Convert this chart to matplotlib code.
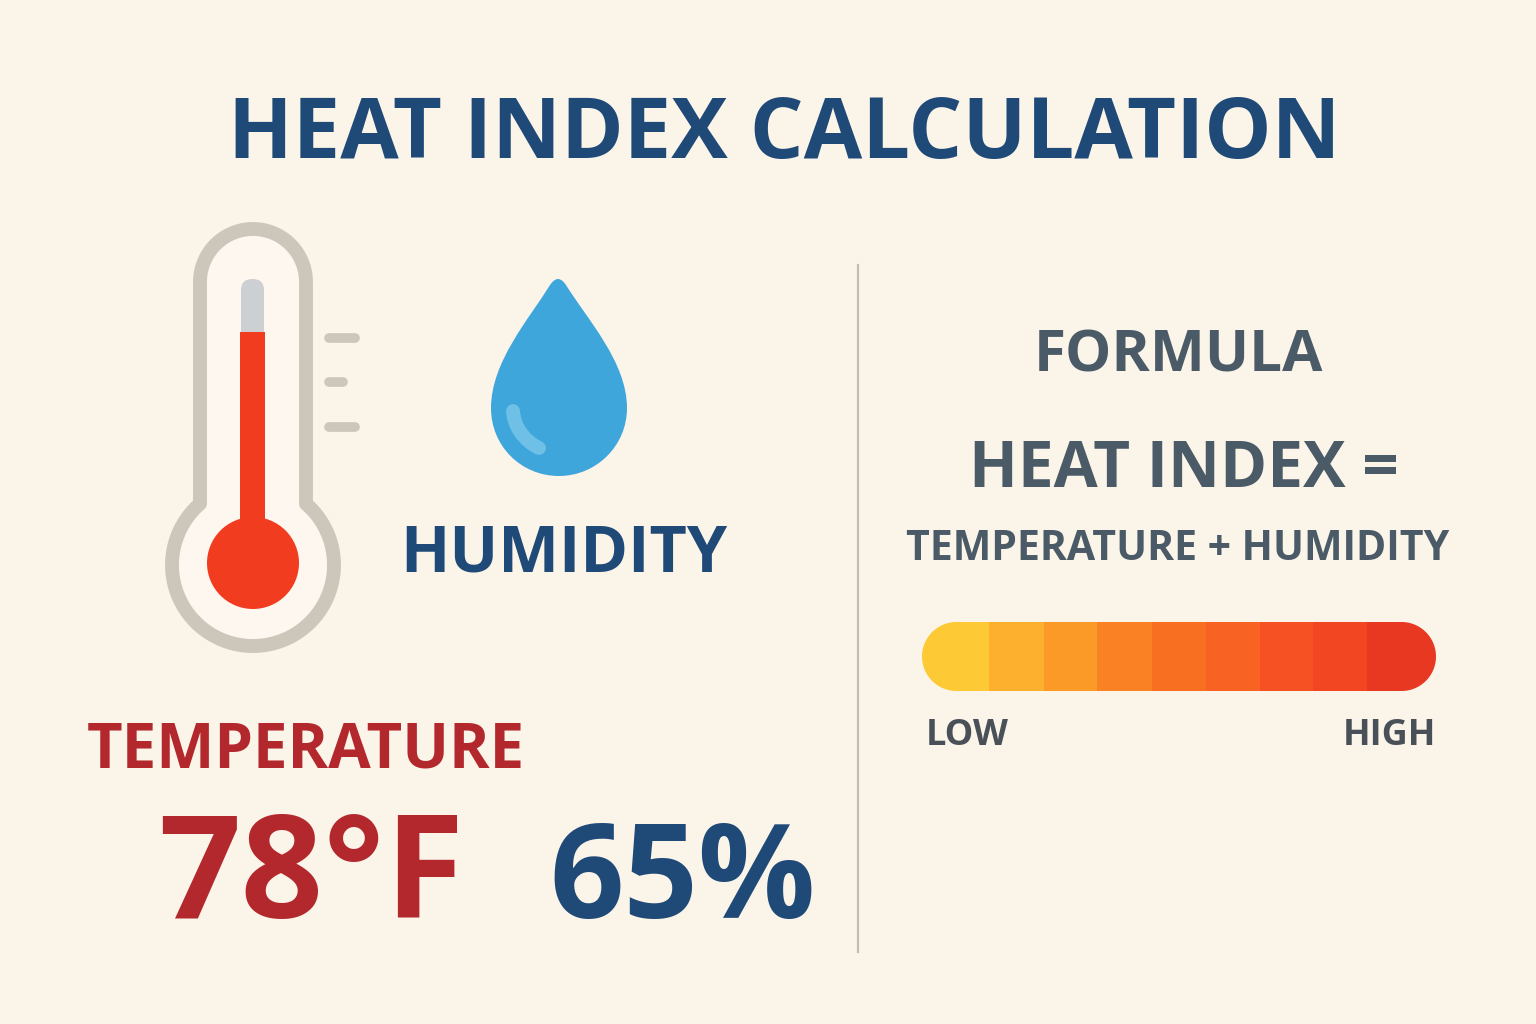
import numpy as np
import matplotlib.pyplot as plt
from matplotlib.patches import Circle, FancyBboxPatch, PathPatch, Polygon, Rectangle
from matplotlib.path import Path

plt.rcParams["font.family"] = ["Open Sans", "DejaVu Sans"]

BG = "#fbf4e9"
NAVY = "#1f4a78"
RED = "#b3282d"
SLATE = "#4a5a66"
DARK = "#4a5058"
STEM = "#cdc7bb"

title = "HEAT INDEX CALCULATION"
temp_label = "TEMPERATURE"
humid_label = "HUMIDITY"
temp_value = "78°F"
humid_value = "65%"
formula_head = "FORMULA"
formula_left = "HEAT INDEX ="
formula_right = "TEMPERATURE + HUMIDITY"
scale_low = "LOW"
scale_high = "HIGH"

# colour bar steps, low to high
scale_edges = [922, 989, 1044, 1097, 1152, 1206, 1260, 1313, 1367, 1436]
scale_colors = ["#fdca35", "#fdb02d", "#fb9a27", "#fa8224", "#f96f22",
                "#f86222", "#f65123", "#f24522", "#e83822"]


def thermometer(ax):
    cx, top, r_tube, cy, r_bulb = 253, 282, 53, 565, 81
    join = np.arcsin(r_tube / r_bulb)
    a = np.linspace(np.pi, 0, 60)
    xs = [cx + r_tube * np.cos(a)]
    ys = [top - r_tube * np.sin(a)]
    b = np.linspace(join, 2 * np.pi - join, 120)
    xs.append(cx + r_bulb * np.sin(b))
    ys.append(cy - r_bulb * np.cos(b))
    pts = np.column_stack([np.concatenate(xs), np.concatenate(ys)])
    ax.fill(pts[:, 0], pts[:, 1], facecolor="#fdf7ef", edgecolor=STEM,
            linewidth=10, joinstyle="round", zorder=2)

    glass = FancyBboxPatch((241, 279), 23, 70, boxstyle="round,pad=0,rounding_size=11",
                           facecolor="#ccd0d3", edgecolor="none", zorder=3)
    ax.add_patch(glass)
    ax.add_patch(Rectangle((240, 332), 25, 200, facecolor="#f23c20", edgecolor="none", zorder=4))
    ax.add_patch(Circle((253, 563), 46, facecolor="#f23c20", edgecolor="none", zorder=4))

    for x_end, y in zip([355, 343, 355], [338, 382, 427]):
        ax.plot([329, x_end], [y, y], color=STEM, lw=7, solid_capstyle="round", zorder=2)


def droplet(ax):
    verts = [(558, 279), (561, 279), (564, 282), (566, 285),
             (587, 319), (627, 362), (627, 408),
             (627, 446), (596, 476), (559, 476),
             (521, 476), (491, 446), (491, 408),
             (491, 362), (529, 319), (550, 285),
             (552, 282), (555, 279), (558, 279)]
    codes = [Path.MOVETO] + [Path.CURVE4] * 18
    ax.add_patch(PathPatch(Path(verts, codes), facecolor="#3fa6dc", edgecolor="none", zorder=2))
    shine = Path([(513, 411), (514, 426), (523, 440), (539, 448)],
                 [Path.MOVETO, Path.CURVE4, Path.CURVE4, Path.CURVE4])
    ax.add_patch(PathPatch(shine, facecolor="none", edgecolor="#6fc0e6", lw=10,
                           capstyle="round", zorder=3))


def colour_scale(ax):
    left, right = scale_edges[0], scale_edges[-1]
    top, height = 622, 69
    r = height / 2
    a = np.linspace(-np.pi / 2, np.pi / 2, 60)
    xs = np.concatenate([right - r + r * np.cos(a), left + r - r * np.cos(a[::-1])])
    ys = np.concatenate([top + r + r * np.sin(a), top + r + r * np.sin(a[::-1])])
    clip = Polygon(np.column_stack([xs, ys]), closed=True, facecolor="none", edgecolor="none")
    ax.add_patch(clip)
    widths = np.diff(scale_edges)
    bars = ax.bar(scale_edges[:-1], height, width=widths, bottom=top, align="edge",
                  color=scale_colors, linewidth=0, zorder=2)
    for bar in bars:
        bar.set_clip_path(clip)


def main():
    fig = plt.figure(figsize=(15.36, 10.24), dpi=100, facecolor=BG)
    ax = fig.add_axes([0, 0, 1, 1])
    ax.set_xlim(0, 1536)
    ax.set_ylim(1024, 0)
    ax.axis("off")

    ax.text(784, 158, title, color=NAVY, fontsize=61, fontweight="bold", ha="center", va="baseline")

    thermometer(ax)
    droplet(ax)
    colour_scale(ax)

    ax.plot([858, 858], [265, 952], color="#c2bdb1", lw=1.6)

    ax.text(564, 572, humid_label, color=NAVY, fontsize=46.5, fontweight="bold", ha="center", va="baseline")
    ax.text(306, 768, temp_label, color=RED, fontsize=44.5, fontweight="bold", ha="center", va="baseline")
    ax.text(311, 918, temp_value, color=RED, fontsize=104, fontweight="bold", ha="center", va="baseline")
    ax.text(683, 918, humid_value, color=NAVY, fontsize=94, fontweight="bold", ha="center", va="baseline")

    ax.text(1178, 372, formula_head, color=SLATE, fontsize=42, fontweight="bold", ha="center", va="baseline")
    ax.text(1184, 487, formula_left, color=SLATE, fontsize=46, fontweight="bold", ha="center", va="baseline")
    ax.text(1178, 560, formula_right, color=SLATE, fontsize=29.5, fontweight="bold", ha="center", va="baseline")
    ax.text(926, 745, scale_low, color=DARK, fontsize=26, fontweight="bold", ha="left", va="baseline")
    ax.text(1436, 745, scale_high, color=DARK, fontsize=26, fontweight="bold", ha="right", va="baseline")

    fig.savefig("out.png", dpi=100, facecolor=BG)
    plt.close(fig)


if __name__ == "__main__":
    main()
